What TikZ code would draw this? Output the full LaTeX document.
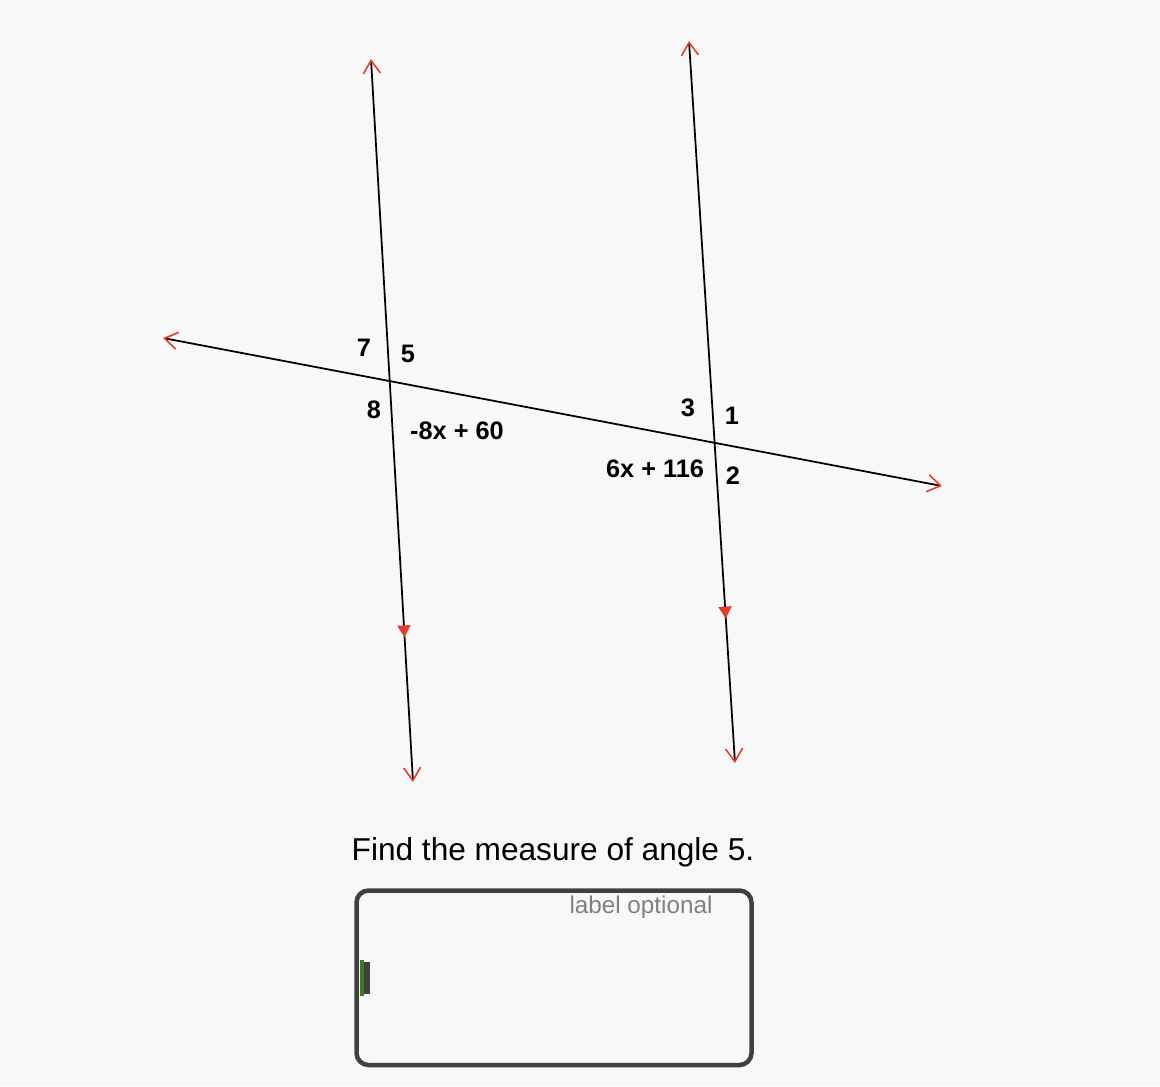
\documentclass[tikz,border=0pt]{standalone}
\usepackage{fontspec}
\setmainfont{Liberation Sans}
\usepackage{xcolor}
\usepackage{tikz}
\usetikzlibrary{arrows.meta,decorations.markings}

\definecolor{pagebg}{HTML}{F8F8F8}
\definecolor{rayred}{HTML}{E8392B}
\definecolor{boxgray}{HTML}{404040}
\definecolor{hintgray}{HTML}{808080}
\definecolor{cursorgreen}{HTML}{3A7D1F}

\tikzset{
  barb/.tip={Straight Barb[color=rayred,length=0.26cm,width=0.34cm,line width=0.9pt]},
  ray/.style={line width=1pt,barb-barb},
  midmark/.style={postaction={decorate},
    decoration={markings,mark=at position 0.80 with
      {\arrow{Triangle[color=rayred,fill=rayred,length=0.24cm,width=0.26cm]}}}},
  anglab/.style={font=\fontsize{14.4}{17}\selectfont\bfseries,inner sep=0pt}
}

\begin{document}
\begin{tikzpicture}[x=0.02cm,y=-0.02cm]
      \def\xmax{1160}
      \def\ymax{1086}

      \fill[pagebg] (0,0) rectangle (\xmax,\ymax);
      \useasboundingbox (0,0) rectangle (\xmax,\ymax);

      % the two lines and the transversal
      \coordinate (l1) at (371,59);
      \coordinate (l2) at (413,782);
      \coordinate (r1) at (689,41);
      \coordinate (r2) at (735,763);
      \coordinate (t1) at (163,338);
      \coordinate (t2) at (942,486);

      \draw[ray, midmark] (l1) -- (l2);
      \draw[ray, midmark] (r1) -- (r2);
      \draw[ray] (t1) -- (t2);

      \node[anglab] (a7) at (364,348) {7};
      \node[anglab] (a5) at (408,354) {5};
      \node[anglab] (a8) at (374,410) {8};
      \node[anglab] (ex1) at (457,431) {-8x + 60};

      \node[anglab] (a3) at (688,408) {3};
      \node[anglab] (a1) at (732,416) {1};
      \node[anglab] (ex2) at (655,469) {6x + 116};
      \node[anglab] (a2) at (733,476) {2};

      \node[font=\fontsize{18}{22}\selectfont] (question) at (553,852) {Find the measure of angle 5.};

      % answer box
      \draw[boxgray, line width=0.09cm, rounded corners=0.24cm] (356.5,890.5) rectangle (751.5,1065);
      \node[font=\fontsize{13.8}{16}\selectfont, text=hintgray] (hint) at (641,907) {label optional};
      \fill[cursorgreen] (360,960) rectangle (364,996);
      \fill[boxgray] (364,962) rectangle (370,994);
\end{tikzpicture}
\end{document}
